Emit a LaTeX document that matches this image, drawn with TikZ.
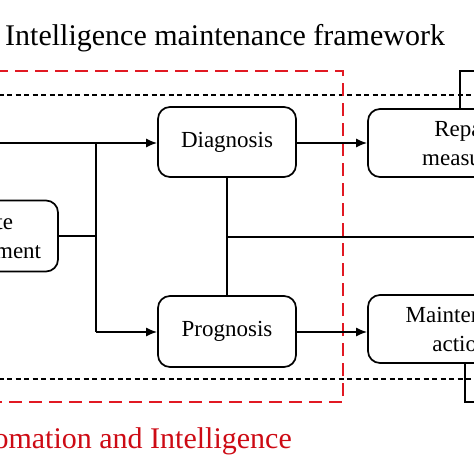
\documentclass[tikz,border=0pt]{standalone}
\usepackage{fontspec}
\setmainfont{Liberation Serif}
\usetikzlibrary{arrows.meta}
\definecolor{boxred}{RGB}{225,25,35}
\definecolor{textred}{RGB}{205,10,20}
\begin{document}
\begin{tikzpicture}[x=1pt,y=-1pt,
  procbox/.style={draw,line width=1.7pt,rounded corners=12pt,align=center,
    font=\fontsize{23}{29}\selectfont,inner sep=0pt},
  conn/.style={line width=1.7pt},
  arr/.style={conn,-{Latex[length=11pt,width=9pt]}},
  blackdash/.style={line width=1.7pt,dash pattern=on 5pt off 3.5pt},
  reddash/.style={draw=boxred,line width=1.8pt,dash pattern=on 13pt off 7pt}]
\useasboundingbox (0,0) rectangle (474,474);
\clip (0,0) rectangle (474,474);
% title
\node[anchor=base west,inner sep=0pt,font=\fontsize{30}{36}\selectfont] (title) at (5,45) {Intelligence maintenance framework};
% dashed lines
\coordinate (dl1) at (-10,95);
\coordinate (dr1) at (484,95);
\coordinate (dl2) at (-10,379);
\coordinate (dr2) at (484,379);
\draw[blackdash] (dl1) -- (dr1);
\draw[blackdash] (dl2) -- (dr2);
% red dashed frame
\coordinate (rtl) at (-120,71);
\coordinate (rbr) at (343,402);
\draw[reddash] (rtl) rectangle (rbr);
\node[anchor=base east,inner sep=0pt,text=textred,font=\fontsize{30}{36}\selectfont] (redtext) at (292,448) {Automation and Intelligence};
% boxes
\node[procbox,minimum width=138pt,minimum height=70pt] (diag) at (227,142) {Diagnosis};
\node[procbox,minimum width=138pt,minimum height=71pt] (prog) at (227,331.5) {Prognosis};
\node[procbox,minimum width=136pt,minimum height=71pt] (state) at (-10,236) {State\\assessment};
\node[procbox,minimum width=194pt,minimum height=68pt] (rep) at (465,143) {Repair\\measures};
\node[procbox,minimum width=194pt,minimum height=68pt] (main) at (465,329) {Maintenance\\actions};
% connectors
\coordinate (inl) at (-10,143);
\coordinate (jx) at (96,143);
\coordinate (jy) at (96,236);
\draw[arr] (inl) -- (diag.west |- inl);
\draw[conn] (jx) -- (96,332) ;
\draw[arr] (96,332) -- (prog.west |- 0,332);
\draw[conn] (state.east |- jy) -- (jy);
\draw[conn] (diag.south) -- (prog.north);
\coordinate (midr) at (484,237);
\draw[conn] (227,237) -- (midr);
\draw[arr] (diag.east |- 0,143) -- (rep.west |- 0,143);
\draw[arr] (prog.east |- 0,332) -- (main.west |- 0,332);
\coordinate (topr) at (484,71);
\draw[conn] (rep.north -| 460,0) -- (460,71) -- (topr);
\coordinate (botr) at (484,402);
\draw[conn] (main.south -| 465,0) -- (465,402) -- (botr);
\end{tikzpicture}
\end{document}
